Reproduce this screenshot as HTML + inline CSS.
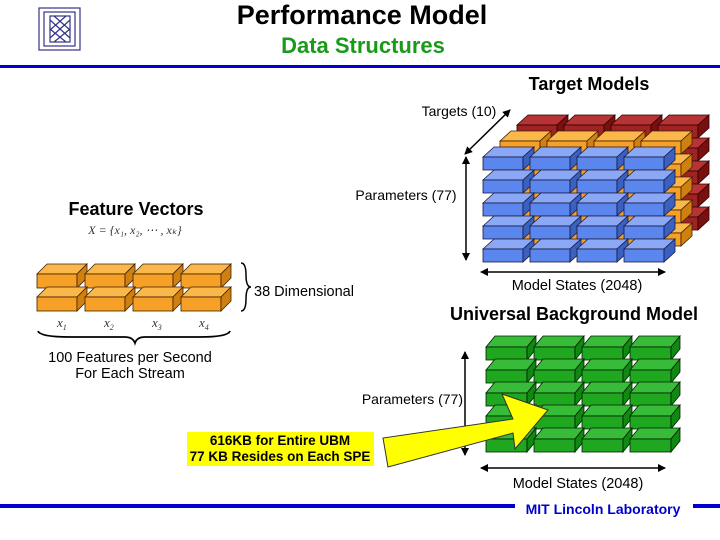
<!DOCTYPE html>
<html><head><meta charset="utf-8"><style>
body{margin:0;background:#fff;}
svg{display:block;font-family:"Liberation Sans",Arial,sans-serif;}
</style></head><body>
<svg width="720" height="540" viewBox="0 0 720 540" xmlns="http://www.w3.org/2000/svg">
<defs>
<marker id="ah" markerWidth="8" markerHeight="8" refX="7" refY="4" orient="auto-start-reverse" markerUnits="userSpaceOnUse"><path d="M0,0 L8,4 L0,8 z" fill="#000"/></marker>
<g id="bB" stroke="#1a1a40" stroke-width="0.8"><path d="M0,0 L11,-10 L51,-10 L40,0z" fill="#8aa8f5"/><rect x="0" y="0" width="40" height="13" fill="#5a86ee"/><path d="M40,0 L51,-10 L51,3 L40,13z" fill="#3a60c0"/></g>
<g id="bO" stroke="#402000" stroke-width="0.8"><path d="M0,0 L11,-10 L51,-10 L40,0z" fill="#fbb84a"/><rect x="0" y="0" width="40" height="13" fill="#f6a028"/><path d="M40,0 L51,-10 L51,3 L40,13z" fill="#d08010"/></g>
<g id="bR" stroke="#300000" stroke-width="0.8"><path d="M0,0 L11,-10 L51,-10 L40,0z" fill="#b83434"/><rect x="0" y="0" width="40" height="13" fill="#a02222"/><path d="M40,0 L51,-10 L51,3 L40,13z" fill="#781010"/></g>
<g id="bG" stroke="#002000" stroke-width="0.8"><path d="M0,0 L9,-11 L50,-11 L41,0z" fill="#38bb38"/><rect x="0" y="0" width="41" height="13" fill="#1fa81f"/><path d="M41,0 L50,-11 L50,2 L41,13z" fill="#118811"/></g>
<g id="bF" stroke="#402000" stroke-width="0.8"><path d="M0,0 L10,-10 L50,-10 L40,0z" fill="#fbb84a"/><rect x="0" y="0" width="40" height="14" fill="#f6a028"/><path d="M40,0 L50,-10 L50,4 L40,14z" fill="#d08010"/></g>
<g id="rB"><use href="#bB" x="0"/><use href="#bB" x="47"/><use href="#bB" x="94"/><use href="#bB" x="141"/></g>
<g id="rO"><use href="#bO" x="0"/><use href="#bO" x="47"/><use href="#bO" x="94"/><use href="#bO" x="141"/></g>
<g id="rR"><use href="#bR" x="0"/><use href="#bR" x="47"/><use href="#bR" x="94"/><use href="#bR" x="141"/></g>
<g id="rG"><use href="#bG" x="0"/><use href="#bG" x="48"/><use href="#bG" x="96"/><use href="#bG" x="144"/></g>
<g id="rF"><use href="#bF" x="0"/><use href="#bF" x="48"/><use href="#bF" x="96"/><use href="#bF" x="144"/></g>
</defs>

<g stroke="#33338a" fill="none" stroke-width="1.2">
<rect x="39" y="8" width="41" height="42"/>
<rect x="44" y="12" width="31" height="34"/>
<rect x="50" y="16" width="20" height="26"/>
<path d="M50,20 L70,38 M50,29 L66,42 M54,16 L70,30 M70,20 L50,38 M70,29 L54,42 M66,16 L50,30"/>
</g>

<text x="362" y="24" font-size="27" font-weight="bold" text-anchor="middle">Performance Model</text>
<text x="363" y="53" font-size="22" font-weight="bold" fill="#1a9a1a" text-anchor="middle">Data Structures</text>
<rect x="0" y="65" width="720" height="3" fill="#0000cc"/>

<text x="589" y="90" font-size="18" font-weight="bold" text-anchor="middle">Target Models</text>
<text x="459" y="116" font-size="14" text-anchor="middle">Targets (10)</text>

<g transform="translate(517,125)"><use href="#rR" y="0"/><use href="#rR" y="23"/><use href="#rR" y="46"/><use href="#rR" y="69"/><use href="#rR" y="92"/></g>
<g transform="translate(500,141)"><use href="#rO" y="0"/><use href="#rO" y="23"/><use href="#rO" y="46"/><use href="#rO" y="69"/><use href="#rO" y="92"/></g>
<g transform="translate(483,157)"><use href="#rB" y="0"/><use href="#rB" y="23"/><use href="#rB" y="46"/><use href="#rB" y="69"/><use href="#rB" y="92"/></g>

<g stroke="#000" stroke-width="1.5" marker-start="url(#ah)" marker-end="url(#ah)">
<line x1="465" y1="154" x2="510" y2="110"/>
<line x1="466" y1="157" x2="466" y2="260"/>
<line x1="481" y1="272" x2="665" y2="272"/>
<line x1="465" y1="352" x2="465" y2="455"/>
<line x1="481" y1="468" x2="665" y2="468"/>
</g>

<text x="406" y="200" font-size="14" text-anchor="middle">Parameters (77)</text>
<text x="577" y="290" font-size="14.5" text-anchor="middle">Model States (2048)</text>

<text x="136" y="215" font-size="18" font-weight="bold" text-anchor="middle">Feature Vectors</text>
<text x="135" y="234" font-size="12" font-style="italic" font-family="Liberation Serif,serif" text-anchor="middle" fill="#333">X = {x₁, x₂, ⋯ , xₖ}</text>

<g transform="translate(37,274)"><use href="#rF" y="0"/><use href="#rF" y="23"/></g>
<path d="M241,263 Q246,263 246,275 Q246,287 251,287 Q246,287 246,299 Q246,311 241,311" stroke="#000" stroke-width="1.5" fill="none"/>
<text x="304" y="296" font-size="14.5" text-anchor="middle">38 Dimensional</text>
<g font-family="Liberation Serif,serif" font-style="italic" font-size="13" fill="#333">
<text x="57" y="327">x<tspan font-size="8" dy="3">1</tspan></text>
<text x="104" y="327">x<tspan font-size="8" dy="3">2</tspan></text>
<text x="152" y="327">x<tspan font-size="8" dy="3">3</tspan></text>
<text x="199" y="327">x<tspan font-size="8" dy="3">4</tspan></text>
</g>
<path d="M38,331 Q40,337 70,337 L125,337 Q133,337 135,343 Q137,337 145,337 L200,337 Q228,337 230,331" stroke="#000" stroke-width="1.8" fill="none"/>
<text x="130" y="362" font-size="14.5" text-anchor="middle">100 Features per Second</text>
<text x="130" y="378" font-size="14.5" text-anchor="middle">For Each Stream</text>

<text x="574" y="320" font-size="18" font-weight="bold" text-anchor="middle">Universal Background Model</text>
<g transform="translate(486,347)"><use href="#rG" y="0"/><use href="#rG" y="23"/><use href="#rG" y="46"/><use href="#rG" y="69"/><use href="#rG" y="92"/></g>
<text x="463" y="404" font-size="14" text-anchor="end">Parameters (77)</text>
<text x="578" y="488" font-size="14.5" text-anchor="middle">Model States (2048)</text>

<polygon points="388,467 383,438 513,419 502,394 548,410 515,449 513,433" fill="#ffff00" stroke="#333" stroke-width="1"/>
<rect x="187" y="432" width="187" height="34" fill="#ffff00"/>
<text x="280" y="445" font-size="13.5" font-weight="bold" text-anchor="middle">616KB for Entire UBM</text>
<text x="280" y="461" font-size="13.5" font-weight="bold" text-anchor="middle">77 KB Resides on Each SPE</text>

<rect x="0" y="504" width="515" height="4" fill="#0000cc"/>
<rect x="693" y="504" width="27" height="4" fill="#0000cc"/>
<text x="603" y="514" font-size="14" font-weight="bold" fill="#0000cc" text-anchor="middle">MIT Lincoln Laboratory</text>
</svg>
</body></html>
